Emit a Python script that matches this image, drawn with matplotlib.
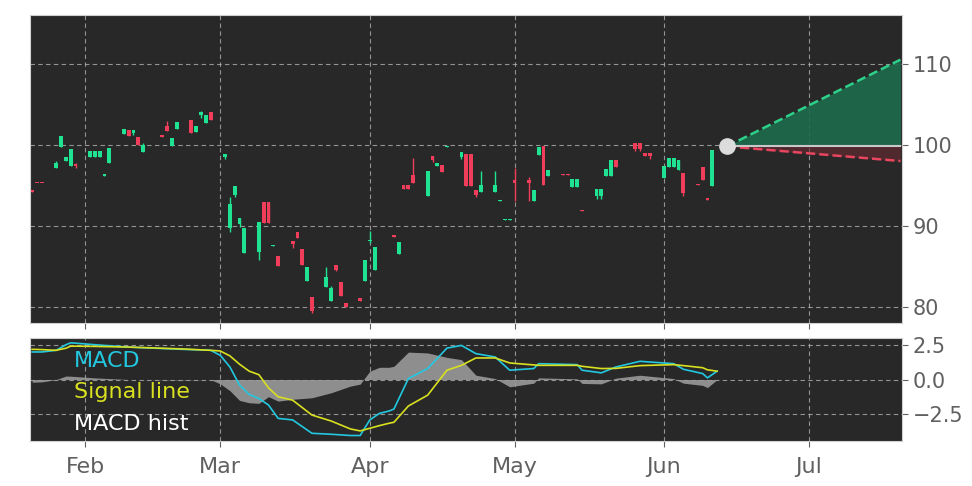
import matplotlib
matplotlib.use("Agg")
import matplotlib.pyplot as plt
import matplotlib.dates as mdates
import numpy as np
import pandas as pd

dates = ["2023-01-21","2023-01-22","2023-01-23","2023-01-26","2023-01-27","2023-01-28","2023-01-29","2023-01-30",
 "2023-02-02","2023-02-03","2023-02-04","2023-02-05","2023-02-06","2023-02-09","2023-02-10","2023-02-11","2023-02-12","2023-02-13",
 "2023-02-17","2023-02-18","2023-02-19","2023-02-20","2023-02-23","2023-02-24","2023-02-25","2023-02-26","2023-02-27",
 "2023-03-02","2023-03-03","2023-03-04","2023-03-05","2023-03-06","2023-03-09","2023-03-10","2023-03-11","2023-03-12","2023-03-13",
 "2023-03-16","2023-03-17","2023-03-18","2023-03-19","2023-03-20","2023-03-23","2023-03-24","2023-03-25","2023-03-26","2023-03-27",
 "2023-03-30","2023-03-31","2023-04-01","2023-04-02","2023-04-06","2023-04-07","2023-04-08","2023-04-09","2023-04-10",
 "2023-04-13","2023-04-14","2023-04-15","2023-04-16","2023-04-17","2023-04-20","2023-04-21","2023-04-22","2023-04-23","2023-04-24",
 "2023-04-27","2023-04-28","2023-04-29","2023-04-30","2023-05-01","2023-05-04","2023-05-05","2023-05-06","2023-05-07","2023-05-08",
 "2023-05-11","2023-05-12","2023-05-13","2023-05-14","2023-05-15","2023-05-18","2023-05-19","2023-05-20","2023-05-21","2023-05-22",
 "2023-05-26","2023-05-27","2023-05-28","2023-05-29","2023-06-01","2023-06-02","2023-06-03","2023-06-04","2023-06-05",
 "2023-06-08","2023-06-09","2023-06-10","2023-06-11"]
opens = [94.4,95.35,95.35,97.2,99.7,98.0,97.4,97.65,
 98.5,98.5,98.5,96.2,97.8,101.3,101.8,101.4,101.0,99.1,
 101.2,102.3,99.9,102.0,103.0,101.6,103.7,102.7,104.0,
 98.5,89.8,93.8,90.2,86.7,86.8,92.9,92.9,87.5,86.3,
 88.1,89.3,87.2,83.2,81.2,82.5,80.7,85.2,83.1,80.5,
 81.1,83.2,88.1,84.5,88.9,86.5,95.1,95.1,96.3,
 93.7,98.6,97.4,97.5,99.7,98.5,98.9,98.9,94.4,94.2,
 94.2,93.05,90.7,90.7,95.6,95.6,93.1,98.8,99.8,96.2,
 96.4,96.4,94.8,94.8,92.0,93.7,93.7,96.2,96.2,98.1,
 100.2,100.2,99.0,99.0,95.9,97.3,97.3,96.9,96.5,
 95.15,97.3,93.4,94.9]
closes = [94.2,95.25,95.25,97.8,101.1,98.5,99.5,97.4,
 99.2,99.2,99.2,96.35,99.6,102.0,101.1,101.8,100.0,100.0,
 101.0,101.7,100.9,102.8,101.5,102.3,104.0,103.7,103.0,
 98.9,92.7,94.9,91.0,89.8,90.5,90.4,90.4,87.7,85.0,
 87.8,88.5,85.2,84.9,79.5,83.7,82.3,84.6,81.4,80.0,
 80.7,85.8,88.3,87.4,88.6,88.0,94.5,94.5,95.3,
 96.8,98.1,97.7,96.7,99.9,99.1,94.9,94.9,93.8,95.1,
 95.1,93.15,90.9,90.9,95.3,95.3,94.4,99.7,95.1,96.9,
 96.25,96.25,95.8,95.8,91.8,94.5,94.5,97.0,98.1,97.3,
 99.5,99.5,98.6,98.6,97.4,98.4,98.4,98.1,94.0,
 95.05,95.7,93.2,99.3]
highs = [94.4,95.35,95.35,98.0,101.1,98.5,99.5,97.8,
 99.2,99.2,99.2,96.35,99.6,102.0,101.8,101.8,101.0,100.2,
 101.2,102.9,100.9,102.8,103.0,102.3,104.2,103.7,104.0,
 98.9,93.6,94.9,91.0,89.8,90.5,92.9,92.9,87.7,86.3,
 88.1,89.3,87.2,84.9,81.2,84.9,82.6,85.2,83.1,80.5,
 81.1,85.8,89.4,87.4,88.9,88.0,95.1,95.1,98.4,
 96.8,98.6,97.7,97.5,99.9,99.1,98.9,98.9,94.4,96.8,
 96.8,93.15,90.9,90.9,97.1,96.0,94.4,99.7,99.8,96.9,
 96.4,96.4,95.8,95.8,92.0,94.5,94.5,97.0,98.1,98.1,
 100.2,100.2,99.0,99.0,97.4,98.4,98.4,98.1,96.5,
 95.15,97.3,93.4,99.3]
lows = [94.2,95.25,95.25,97.2,99.7,98.0,97.4,97.2,
 98.5,98.5,98.5,96.2,97.8,101.3,101.1,101.2,100.0,99.1,
 101.0,101.7,99.9,102.0,101.5,101.6,103.3,102.7,103.0,
 98.3,89.2,93.6,89.9,86.7,85.8,90.4,90.4,87.5,85.0,
 87.3,88.5,85.2,83.2,79.2,82.5,80.7,84.4,81.4,80.0,
 80.7,83.2,87.9,84.5,88.6,86.5,94.5,94.5,95.3,
 93.7,97.9,97.4,96.7,99.7,98.3,94.9,94.9,93.6,94.2,
 94.2,93.05,90.7,90.7,93.1,93.1,93.1,98.8,95.1,96.2,
 96.25,96.25,94.8,94.8,91.8,93.3,93.3,96.2,96.2,97.3,
 99.2,99.2,98.6,98.2,95.9,97.3,97.3,96.9,93.7,
 95.05,95.7,93.2,94.9]

fc_dates = ["2023-06-14", "2023-07-20"]
fc_mid = [99.8, 99.8]
fc_up = [99.8, 110.5]
fc_low = [99.8, 98.0]

macd_dates = ["2023-01-21","2023-01-23","2023-01-26","2023-01-28","2023-01-29","2023-02-03","2023-02-10","2023-02-21",
 "2023-02-27","2023-03-01","2023-03-03","2023-03-05","2023-03-07","2023-03-09","2023-03-11","2023-03-13","2023-03-16",
 "2023-03-20","2023-03-24","2023-03-28","2023-03-30","2023-04-01","2023-04-03","2023-04-05","2023-04-06","2023-04-09",
 "2023-04-13","2023-04-17","2023-04-20","2023-04-23","2023-04-27","2023-04-30","2023-05-05","2023-05-06","2023-05-14",
 "2023-05-15","2023-05-19","2023-05-22","2023-05-27","2023-06-03","2023-06-05","2023-06-09","2023-06-10","2023-06-12"]
macd = [1.98,1.98,2.1,2.5,2.64,2.5,2.33,2.17,2.1,1.74,0.9,-0.4,-1.07,-1.36,-1.83,-2.79,-2.9,
 -3.86,-3.93,-4.02,-4.02,-2.9,-2.43,-2.26,-2.12,0.07,0.79,2.26,2.45,1.86,1.62,0.67,0.79,1.14,1.07,
 0.67,0.48,0.9,1.31,1.14,0.74,0.43,0.12,0.6]
signal = [2.17,2.15,2.1,2.25,2.4,2.38,2.33,2.2,2.1,2.05,1.7,1.1,0.6,0.35,-0.6,-1.24,-1.48,
 -2.55,-2.98,-3.55,-3.69,-3.5,-3.31,-3.14,-3.07,-1.9,-1.12,0.67,1.02,1.55,1.55,1.19,1.05,1.02,1.02,
 0.95,0.79,0.8,1.0,1.07,1.0,0.85,0.7,0.6]

GREEN = "#1fe393"
RED = "#f03e5a"
BG = "#282828"
TXT = "#606060"

d = pd.to_datetime(dates)
x = mdates.date2num(d)
o = np.array(opens); c = np.array(closes); h = np.array(highs); l = np.array(lows)

fig = plt.figure(figsize=(9.72, 4.86), dpi=100)
ax = fig.add_axes([0.031, 0.335, 0.897, 0.634])
ax2 = fig.add_axes([0.031, 0.093, 0.897, 0.212], sharex=ax)

for a in (ax, ax2):
    a.set_facecolor(BG)
    a.grid(True, color="#b0b0b0", linestyle=(0, (4, 3)), linewidth=0.8, alpha=0.8)
    a.set_axisbelow(True)
    a.yaxis.tick_right()
    a.tick_params(colors=TXT, labelsize=15, length=4)
    for s in a.spines.values():
        s.set_color("#d0d0d0")

cols = np.where(c >= o, GREEN, RED)
ax.vlines(x, l, h, color=cols, linewidth=1)
bh = np.abs(c - o)
bh = np.maximum(bh, 0.15)
ax.bar(x, bh, bottom=np.minimum(o, c), width=0.8, color=cols, linewidth=0)

fx = mdates.date2num(pd.to_datetime(fc_dates))
ax.fill_between(fx, fc_mid, fc_up, color="#1d6b4c", alpha=0.9, linewidth=0)
ax.fill_between(fx, fc_low, fc_mid, color="#6b2a35", alpha=0.6, linewidth=0)
ax.plot(fx, fc_up, color="#2ed18a", linestyle="--", linewidth=1.8)
ax.plot(fx, fc_low, color="#e8455e", linestyle="--", linewidth=1.8)
ax.plot(fx, fc_mid, color="#c8c8c8", linewidth=1.5)
ax.plot(fx[:1], fc_mid[:1], "o", color="#dcdcdc", markersize=11, zorder=5)

ax.set_ylim(78, 116)
ax.set_yticks([80, 90, 100, 110])
ax.set_xlim(mdates.date2num(pd.Timestamp("2023-01-20 14:00")), mdates.date2num(pd.Timestamp("2023-07-20 08:00")))
plt.setp(ax.get_xticklabels(), visible=False)

mx = mdates.date2num(pd.to_datetime(macd_dates))
m = np.array(macd); s = np.array(signal)
ax2.fill_between(mx, 0, m - s, color="#9a9a9a", alpha=0.9, linewidth=0)
ax2.plot(mx, m, color="#22c8e0", linewidth=1.2)
ax2.plot(mx, s, color="#d8e020", linewidth=1.2)
ax2.set_ylim(-4.4, 3.0)
ax2.set_yticks([-2.5, 0.0, 2.5])
ax2.set_yticklabels(["\u22122.5", "0.0", "2.5"])
ax2.text(0.05, 0.77, "MACD", color="#22c8e0", fontsize=16, transform=ax2.transAxes, va="center")
ax2.text(0.05, 0.47, "Signal line", color="#d8e020", fontsize=16, transform=ax2.transAxes, va="center")
ax2.text(0.05, 0.16, "MACD hist", color="white", fontsize=16, transform=ax2.transAxes, va="center")

ax2.xaxis.set_major_locator(mdates.MonthLocator())
ax2.xaxis.set_major_formatter(mdates.DateFormatter("%b"))
ax2.tick_params(axis="x", labelsize=16, pad=8)

fig.savefig("out.png", dpi=100, facecolor="white")
